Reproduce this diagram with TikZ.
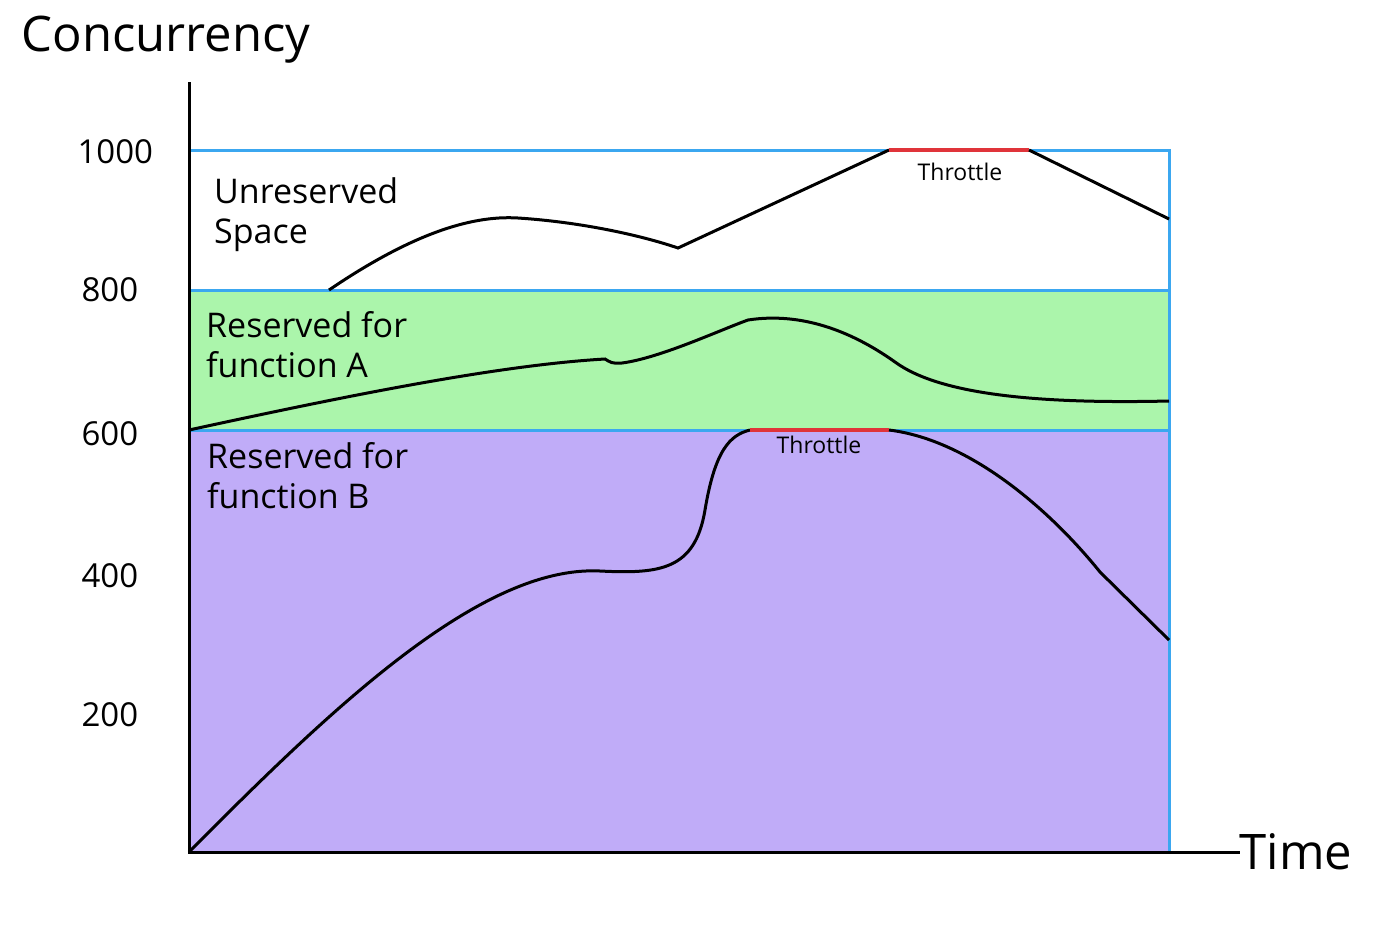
\documentclass[tikz,border=0pt]{standalone}
\usepackage{fontspec}
\setmainfont{Open Sans}
\begin{document}
\begin{tikzpicture}[x=1pt,y=-1pt,
  band/.style={draw=bluel,line width=3pt},
  curve/.style={line width=3pt,black},
  thr/.style={line width=3.2pt,redl},
  tick/.style={font=\fontsize{33}{36}\selectfont,anchor=west},
  lab/.style={font=\fontsize{34}{40}\selectfont,anchor=north west,align=left,inner sep=0},
  tlab/.style={font=\fontsize{23}{26}\selectfont}]
\definecolor{bluel}{HTML}{3BA7F0}\definecolor{redl}{HTML}{E0343A}
\definecolor{gr}{HTML}{ABF5AB}\definecolor{pu}{HTML}{C0ACF8}
\useasboundingbox (0,0) rectangle (1394,935);
\fill[gr] (189,290) rectangle (1169,430);
\fill[pu] (189,430) rectangle (1169,852);
\draw[band] (189,150) -- (1169,150) -- (1169,852);
\draw[band] (189,290) -- (1169,290);
\draw[band] (189,430) -- (1169,430);
\draw[line width=3pt] (189,82) -- (189,852) -- (1240,852);
\node[font=\fontsize{49}{54}\selectfont,anchor=west] (ylab) at (18,40) {Concurrency};
\node[font=\fontsize{49}{54}\selectfont,anchor=west] (xlab) at (1236,852) {Time};
\node[tick] (t1000) at (74,152) {1000};
\foreach \v/\y in {800/290,600/434,400/576,200/715}
  \node[tick] (t\v) at (78,\y) {\v};
\node[lab] (u) at (214,177) {Unreserved\\Space};
\node[lab] (a) at (206,311) {Reserved for\\function A};
\node[lab] (b) at (207,442) {Reserved for\\function B};
\node[tlab] (th1) at (960,172) {Throttle};
\node[tlab] (th2) at (819,445) {Throttle};
\draw[curve] (329,290) .. controls (410,235) and (470,215) .. (518,218)
  .. controls (580,222) and (640,235) .. (678,248) -- (889,150);
\draw[thr] (889,150) -- (1029,150);
\draw[curve] (1029,150) -- (1169,219);
\draw[curve] (189,430) .. controls (350,395) and (500,365) .. (605,359)
  .. controls (610,362) and (612,364) .. (622,363)
  .. controls (660,358) and (720,330) .. (748,320)
  .. controls (800,312) and (850,330) .. (895,362)
  .. controls (940,395) and (1040,404) .. (1169,401);
\draw[curve] (189,852) .. controls (330,710) and (480,565) .. (600,571)
  .. controls (660,574) and (695,570) .. (705,510)
  .. controls (715,450) and (730,435) .. (750,430);
\draw[thr] (750,430) -- (889,430);
\draw[curve] (889,430) .. controls (970,440) and (1050,510) .. (1100,572) -- (1169,640);
\end{tikzpicture}
\end{document}
